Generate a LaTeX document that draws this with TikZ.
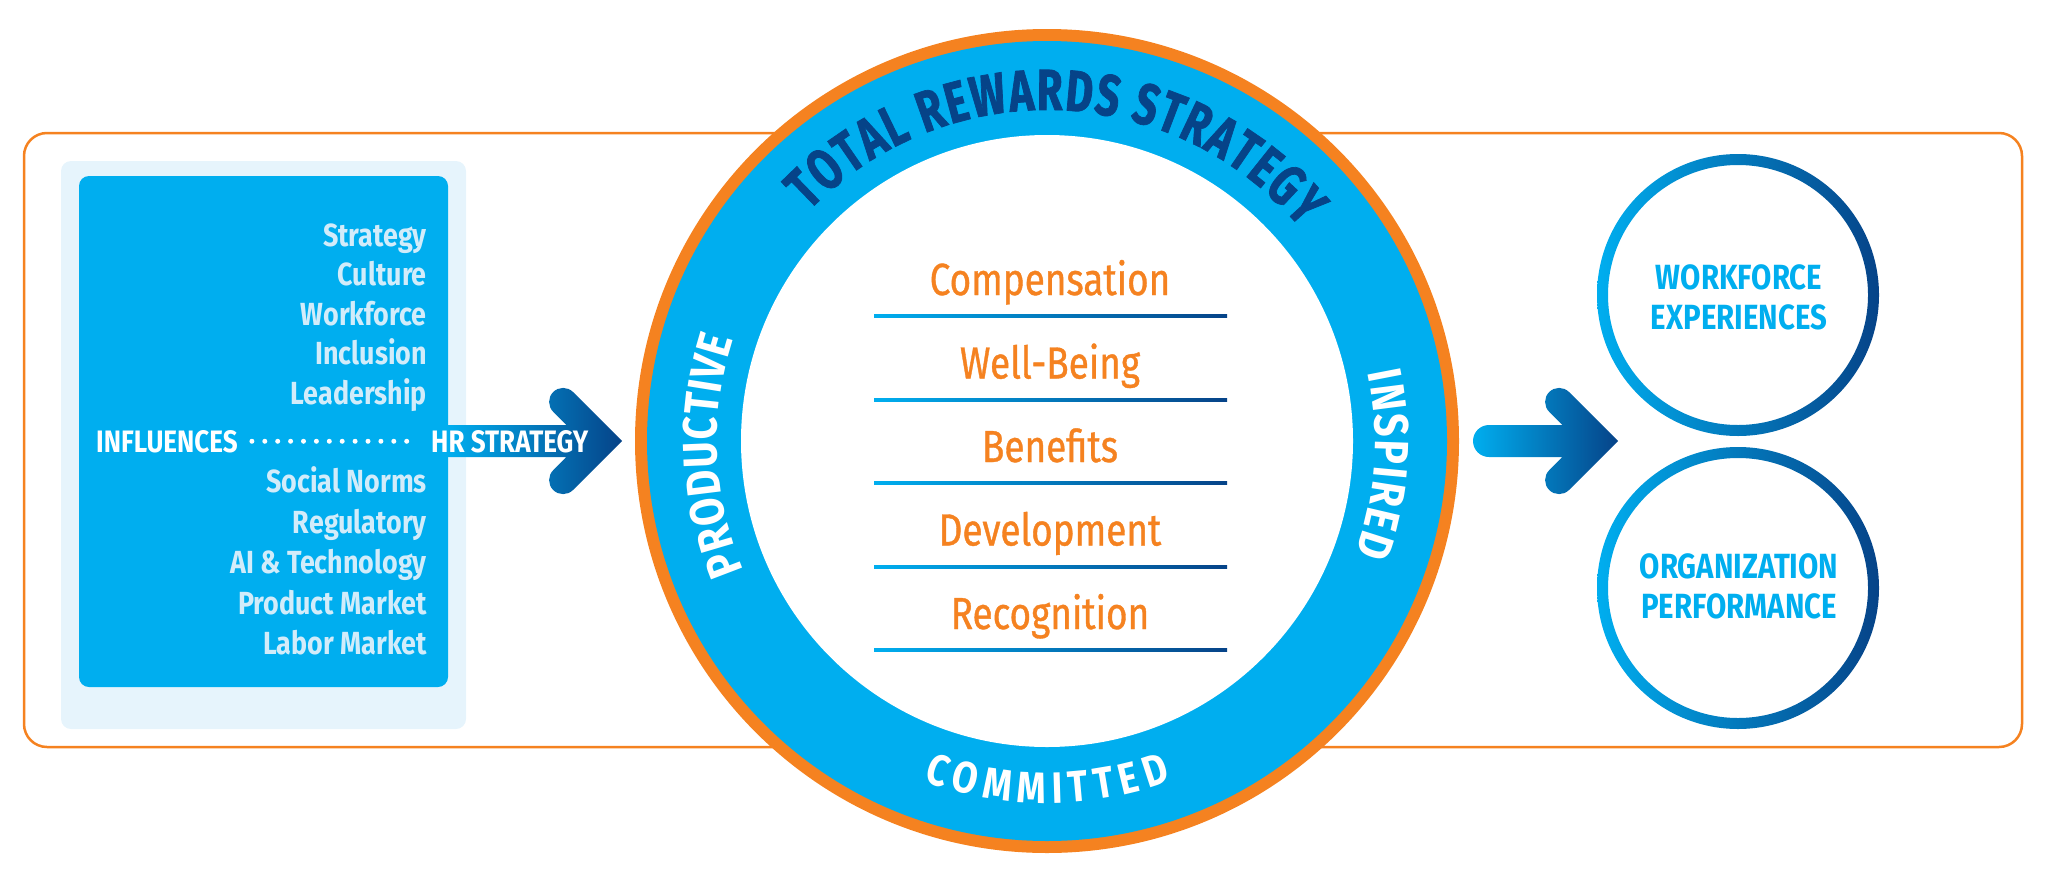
\documentclass[tikz,border=0pt]{standalone}
\usepackage{fontspec}
\setmainfont{Fira Sans}[FakeStretch=0.84]
\newfontfamily\ringfont{Fira Sans}[FakeStretch=0.72, FakeBold=1.2]
\newfontfamily\itemfont{Fira Sans}[FakeStretch=0.82, FakeBold=0.8]
\usetikzlibrary{decorations.text}

\definecolor{rworange}{HTML}{F58220}
\definecolor{rwcyan}{HTML}{00AEEF}
\definecolor{rwnavy}{HTML}{064388}
\definecolor{rwpale}{HTML}{E6F4FC}
\definecolor{rwlist}{HTML}{D2ECFA}

\tikzset{
  listitem/.style={anchor=base east, inner sep=0pt, text=rwlist, font=\bfseries\fontsize{32}{32}\selectfont},
  capslabel/.style={anchor=base west, inner sep=0pt, text=white, font=\bfseries\fontsize{31}{31}\selectfont},
  reward/.style={anchor=base, inner sep=0pt, text=rworange, font=\itemfont\fontsize{45}{45}\selectfont},
  outcome/.style={align=center, inner sep=0pt, text=rwcyan, font=\bfseries\fontsize{35}{40}\selectfont},
  bluefade/.style={left color=rwcyan, right color=rwnavy},
  dotline/.style={white, line width=5pt, line cap=round, dash pattern=on 0pt off 12.9pt},
  ringtext/.style={decorate, decoration={text along path, text align={fit to path}, text={#1}}}
}

\begin{document}
\begin{tikzpicture}[x=1pt, y=-1pt]
	\useasboundingbox (0,0) rectangle (2048,889);
	% frame and influences panel
	\draw[rworange, line width=2.5pt, rounded corners=23pt] (24,133) rectangle (2022,747);
	\fill[rwpale, rounded corners=10pt] (61,161) rectangle (466,729);
	\fill[rwcyan, rounded corners=10pt] (79,176) rectangle (448,687);

	% arrow into the ring
	\shade[bluefade] (622,441) -- (573,392) arc[start angle=-45, end angle=-225, radius=14]
		-- (566.4,425) -- (448,425) -- (448,457) -- (566.4,457) -- (553.2,470.2)
		arc[start angle=225, end angle=45, radius=14] -- cycle;

	\node[listitem] (strat) at (427,246) {Strategy};
	\node[listitem] (cult) at (427,285.5) {Culture};
	\node[listitem] (wforce) at (427,325) {Workforce};
	\node[listitem] (incl) at (427,364.5) {Inclusion};
	\node[listitem] (lead) at (427,404) {Leadership};
	\node[capslabel] (influ) at (96,452) {INFLUENCES};
	\node[capslabel] (hrs) at (431,452) {HR STRATEGY};
	\node[listitem] (norms) at (427,492.5) {Social Norms};
	\node[listitem] (regul) at (427,533) {Regulatory};
	\node[listitem] (aitech) at (427,573.5) {AI \& Technology};
	\node[listitem] (prodm) at (427,614) {Product Market};
	\node[listitem] (labm) at (427,654.5) {Labor Market};
	\draw[dotline] ([xshift=14pt]influ.east) -- ([xshift=-16pt]hrs.west);

	% total rewards ring
	\coordinate (hub) at (1047,441);
	\fill[rworange] (hub) circle[radius=412];
	\fill[rwcyan] (hub) circle[radius=400];
	\fill[white] (hub) circle[radius=306];
	\path[ringtext={|\ringfont\bfseries\fontsize{58}{58}\selectfont\color{rwnavy}|TOTAL REWARDS STRATEGY}]
		([shift={(-136:331)}]hub) arc[start angle=-136, end angle=-40, radius=331];
	\path[ringtext={|\bfseries\fontsize{48}{48}\selectfont\color{white}|PRODUCTIVE}]
		([shift={(157:330)}]hub) arc[start angle=157, end angle=198, radius=330];
	\path[ringtext={|\bfseries\fontsize{48}{48}\selectfont\color{white}|INSPIRED}]
		([shift={(-12:328)}]hub) arc[start angle=-12, end angle=20, radius=328];
	\path[ringtext={|\bfseries\fontsize{44}{44}\selectfont\color{white}|COMMITTED}]
		([shift={(110:362)}]hub) arc[start angle=110, end angle=70, radius=362];

	\node[reward] (comp) at (1050,295) {Compensation};
	\node[reward] (well) at (1050,378.5) {Well-Being};
	\node[reward] (bene) at (1050,462) {Benefits};
	\node[reward] (devel) at (1050,545.5) {Development};
	\node[reward] (recog) at (1050,629) {Recognition};
	\foreach \y in {316,399.5,483,566.5,650}
		\shade[bluefade] (874,\y-1.5) rectangle (1227,\y+1.5);

	% arrow out of the ring
	\shade[bluefade] (1618,441) -- (1569,392) arc[start angle=-45, end angle=-225, radius=14]
		-- (1562.4,425) -- (1489,425) arc[start angle=-90, end angle=-270, radius=16]
		-- (1562.4,457) -- (1549.2,470.2)
		arc[start angle=225, end angle=45, radius=14] -- cycle;

	% outcomes
	\node[outcome] (wfx) at (1739,297) {WORKFORCE\\EXPERIENCES};
	\node[outcome] (orgp) at (1739,586) {ORGANIZATION\\PERFORMANCE};
	\shade[bluefade, even odd rule] (1738,295) circle[radius=141] (1738,295) circle[radius=130];
	\shade[bluefade, even odd rule] (1738,588) circle[radius=141] (1738,588) circle[radius=130];
\end{tikzpicture}
\end{document}
